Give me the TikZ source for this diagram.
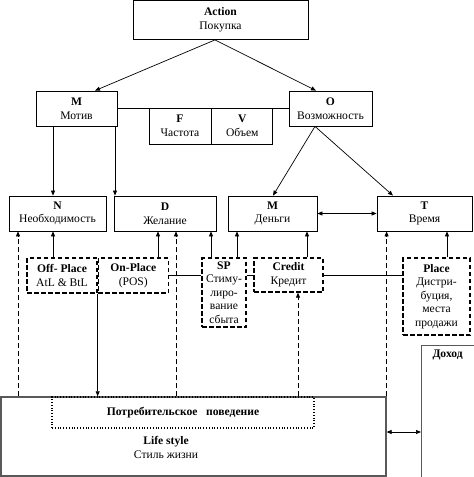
\documentclass[tikz,border=0pt]{standalone}
\usepackage{fontspec}
\setmainfont{Liberation Serif}
\usetikzlibrary{arrows.meta, positioning, calc}

\begin{document}
\begin{tikzpicture}[
        x=1pt, y=-1pt,
        font=\fontsize{11.6}{13.6}\selectfont,
        block/.style={rectangle, draw=black, line width=0.8pt, minimum height=35pt, inner sep=1pt, align=center},
        tool/.style={block, dashed, line width=1.3pt, dash pattern=on 4.5pt off 2.5pt},
        arrow/.style={line width=0.7pt, -{Stealth[length=5pt, width=4pt, inset=0pt]}},
        twoway/.style={line width=0.7pt, {Stealth[length=5pt, width=4pt, inset=0pt]}-{Stealth[length=5pt, width=4pt, inset=0pt]}},
        link/.style={line width=0.7pt},
        feedback/.style={arrow, dash pattern=on 5pt off 3pt}
    ]
    \useasboundingbox (0,0) rectangle (474,477);

    % --- NODES ---
    \node (action) [block, minimum width=175pt, minimum height=39pt] at (220.5,20) {\textbf{Action}\\Покупка};
    \node (motiv) [block, minimum width=81pt] at (76.5,108.5) {\textbf{M}\\Мотив};
    \node (opport) [block, minimum width=83pt] at (330.5,108.5) {\textbf{O}\\Возможность};
    \node (freq) [block, minimum width=62pt, minimum height=36pt] at (180,126) {\textbf{F}\\Частота};
    \node (vol) [block, minimum width=61pt, minimum height=36pt, right=0pt of freq] {\textbf{V}\\Объем};

    % 2. Needs and means
    \node (need) [block, minimum width=97pt] at (57.5,213.5) {\textbf{N}\\Необходимость};
    \node (desire) [block, minimum width=102pt] at (165,213.5) {\textbf{D}\\Желание};
    \node (money) [block, minimum width=89pt] at (272.5,213.5) {\textbf{M}\\Деньги};
    \node (time) [block, minimum width=95pt] at (424.5,213.5) {\textbf{T}\\Время};

    % 3. Marketing tools
    \node (offpl) [tool, minimum width=70pt] at (62,275.5) {\textbf{Off- Place}\\AtL \& BtL};
    \node (onpl) [tool, minimum width=70pt, right=0pt of offpl] {\textbf{On-Place}\\(POS)};
    \node (promo) [tool, minimum width=44pt, minimum height=69pt] at (224,292.5) {\textbf{SP}\\Стиму-\\лиро-\\вание\\сбыта};
    \node (credit) [tool, minimum width=69pt, minimum height=34pt] at (288.5,275) {\textbf{Credit}\\Кредит};
    \node (place) [tool, minimum width=67pt, minimum height=77pt] at (436.5,296.5) {\textbf{Place}\\Дистри-\\буция,\\места\\продажи};

    % 4. Life style and income
    \node (life) [block, draw=black!65, line width=1.2pt, minimum width=385pt, minimum height=79pt] at (193.5,436.5) {};
    \node (lifetext) [align=center] at (166,447.5) {\textbf{Life style}\\Стиль жизни};
    \node (behav) [block, dotted, line width=1.5pt, minimum width=262pt, minimum height=31pt] at (183,412.5) {\textbf{Потребительское\ \ \ поведение}};
    \node (income) [block, draw=black!65, line width=1.2pt, minimum width=60pt, minimum height=140pt, anchor=north west] at (421,345) {};
    \node (incometext) [below=1pt of income.north, xshift=-4pt] {\textbf{Доход}};

    % columns
    \coordinate (colA) at (18,0);
    \coordinate (colN) at (53,0);
    \coordinate (colD) at (115,0);
    \coordinate (colOn) at (158,0);
    \coordinate (colB) at (176,0);
    \coordinate (colSPa) at (211,0);
    \coordinate (colSPb) at (237,0);
    \coordinate (colC) at (298,0);
    \coordinate (colCr) at (307,0);
    \coordinate (colPl) at (447,0);
    \coordinate (ofork) at ([xshift=-15.5pt]opport.south);

    % --- ARROWS ---
    \draw [arrow] ([xshift=-5.5pt]action.south) -- ([xshift=18.5pt]motiv.north);
    \draw [arrow] ([xshift=-5.5pt]action.south) -- ([xshift=-14.5pt]opport.north);
    \draw [link] (motiv.east) -- (opport.west);
    \draw [arrow] (motiv.south -| colN) -- (need.north -| colN);
    \draw [arrow] (motiv.south -| colD) -- (desire.north -| colD);
    \draw [arrow] (ofork) -- ([xshift=0.5pt]money.north);
    \draw [arrow] (ofork) -- ([xshift=-31.5pt]time.north);
    \draw [twoway] (money.east) -- (time.west);

    % tools to needs and means
    \draw [arrow] (offpl.north -| colN) -- (need.south -| colN);
    \draw [arrow] (onpl.north -| colOn) -- (desire.south -| colOn);
    \draw [arrow] (promo.north -| colSPa) -- (desire.south -| colSPa);
    \draw [arrow] (promo.north -| colSPb) -- (money.south -| colSPb);
    \draw [arrow] (credit.north -| colCr) -- (money.south -| colCr);
    \draw [arrow] (place.north -| colPl) -- (time.south -| colPl);
    \draw [link] (onpl.east) -- (onpl.east -| promo.west);
    \draw [link] (credit.west -| promo.east) -- (credit.west);
    \draw [link] (credit.east) -- (credit.east -| place.west);

    % feedback from life style
    \draw [feedback] (life.north -| colA) -- (need.south -| colA);
    \draw [feedback] (life.north -| colB) -- (desire.south -| colB);
    \draw [feedback] (life.north -| colC) -- (credit.south -| colC);
    \draw [feedback] (life.north east) -- (time.south -| life.north east);
    \draw [arrow] (offpl.south east) -- (offpl.south east |- behav.north);
    \draw [twoway] ([yshift=4.5pt]life.east) -- ([yshift=4.5pt]life.east -| income.west);

\end{tikzpicture}
\end{document}
